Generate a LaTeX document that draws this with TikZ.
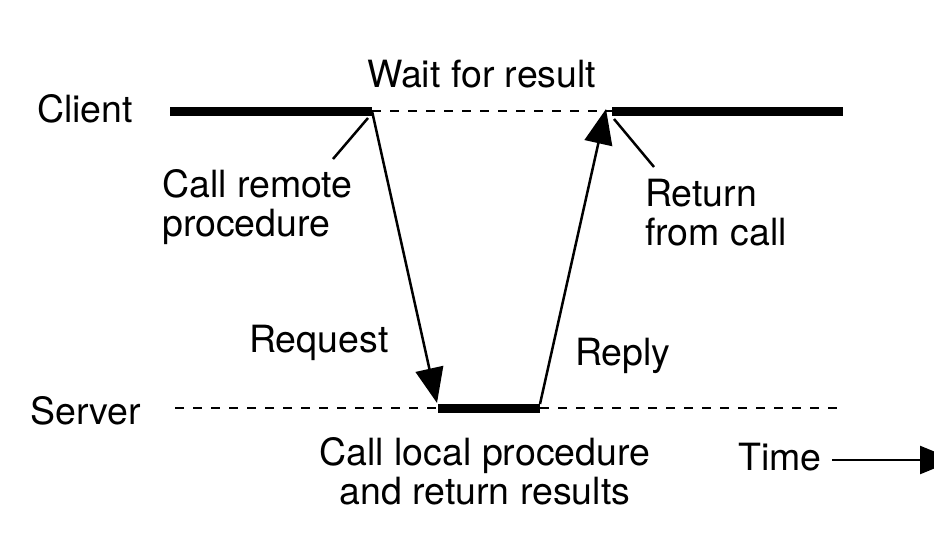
\documentclass[tikz,border=0pt]{standalone}
\usepackage{fontspec}
\setmainfont{TeX Gyre Heros}
\usetikzlibrary{arrows.meta}
\begin{document}
\begin{tikzpicture}[x=1pt,y=-1pt,
  lbl/.style={inner sep=0pt, font=\fontsize{37.5}{39}\selectfont},
  bar/.style={line width=9pt},
  thin/.style={line width=2.5pt},
  dashline/.style={line width=2.5pt, dash pattern=on 8.5pt off 9.5pt},
  bigtip/.style={line width=2.5pt, -{Triangle[length=35pt,width=28pt]}}]
\clip (0,0) rectangle (934,536);
\fill[white] (0,0) rectangle (934,536);
% coordinates
\coordinate (c1) at (170,111);
\coordinate (c2) at (372,111);
\coordinate (c3) at (612,111);
\coordinate (c4) at (843,111);
\coordinate (s1) at (175,408);
\coordinate (s2) at (438,408);
\coordinate (s3) at (540,408);
\coordinate (s4) at (843,408);
\coordinate (reqend) at (437,403);
\coordinate (repstart) at (540,404);
\coordinate (repend) at (606,109);
% labels
\node[lbl, anchor=base west] (client) at (37,122) {Client};
\node[lbl, anchor=base west] (server) at (30,424) {Server};
\node[lbl, anchor=base west] (wait) at (367,87) {Wait for result};
\node[lbl, anchor=base west, align=left] (callrem) at (162,236) {Call remote\\procedure};
\node[lbl, anchor=base west, align=left] (ret) at (645,245) {Return\\from call};
\node[lbl, anchor=base west] (req) at (249,352) {Request};
\node[lbl, anchor=base west] (rep) at (575,365) {Reply};
\node[lbl, anchor=base, align=center] (local) at (485,504) {Call local procedure\\and return results};
\node[lbl, anchor=base west] (time) at (738,470) {Time};
% timelines
\draw[bar] (c1) -- (c2);
\draw[dashline] (c2) -- (c3);
\draw[bar] (c3) -- (c4);
\draw[dashline] (s1) -- (s2);
\draw[bar] (s2) -- (s3);
\draw[dashline] (s3) -- (s4);
% messages
\draw[bigtip] (c2) -- (reqend);
\draw[bigtip] (repstart) -- (repend);
% pointers
\coordinate (p1a) at (368,118);
\coordinate (p1b) at (333,159);
\coordinate (p2a) at (614,119);
\coordinate (p2b) at (654,167);
\draw[thin] (p1a) -- (p1b);
\draw[thin] (p2a) -- (p2b);
% time arrow
\coordinate (t1) at (832,460);
\coordinate (t2) at (955,460);
\draw[bigtip] (t1) -- (t2);
\end{tikzpicture}
\end{document}
